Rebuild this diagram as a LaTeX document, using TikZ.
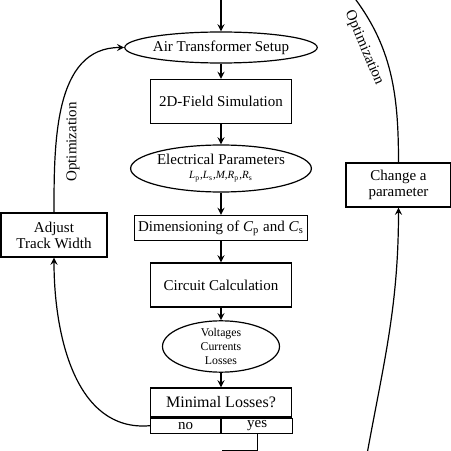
\documentclass[tikz,border=0pt]{standalone}
\usepackage{fontspec}
\setmainfont{Liberation Serif}
\usetikzlibrary{positioning}
\usetikzlibrary{shapes.geometric}
\tikzset{box/.style={draw,rectangle,inner sep=0pt,align=center}}

\begin{document}
\begin{tikzpicture}[x=0.5pt, y=0.5pt,
    font=\fontsize{7.5}{8}\selectfont,
    block/.style={box, line width=0.6pt, minimum width=70.5pt, minimum height=22pt},
    oval/.style={draw, ellipse, line width=0.6pt, inner sep=0pt, align=center},
    arrow/.style={-stealth, line width=0.6pt},
    line/.style={line width=0.6pt},
]
\useasboundingbox (0,0) rectangle (451,451);
\clip (0,0) rectangle (451,451);

\node[oval, minimum width=84.5pt, minimum height=15.5pt] (air) at (221,403.5) {Air Transformer Setup};
\node[block, below of=air, node distance=27pt] (field) {2D-Field Simulation};
\node[oval, below of=field, node distance=33.5pt, minimum width=86.5pt, minimum height=23.5pt] (elec) {Electrical Parameters\\[-1pt]{\fontsize{5.5}{6}\selectfont\textit{L}\textsubscript{p},\textit{L}\textsubscript{s},\textit{M},\textit{R}\textsubscript{p},\textit{R}\textsubscript{s}}};
\node[box, line width=0.6pt, below of=elec, node distance=29.75pt, minimum width=86.5pt, minimum height=12.5pt] (dim) {Dimensioning of \textit{C}\textsubscript{p} and \textit{C}\textsubscript{s}};
\node[block, below of=dim, node distance=28.5pt] (circ) {Circuit Calculation};
\node[oval, below of=circ, node distance=30.75pt, minimum width=58.5pt, minimum height=25.5pt, font=\fontsize{5.9}{7}\selectfont] (volt) {Voltages\\Currents\\Losses};
\node[box, line width=0.6pt, below of=volt, node distance=28pt, minimum width=70.5pt, minimum height=14.5pt, font=\fontsize{8}{9}\selectfont] (minimal) {Minimal Losses?};
\node[box, line width=0.6pt, anchor=north west, minimum width=35pt, minimum height=7.5pt] (no) at (minimal.south west) {no};
\node[box, line width=0.6pt, right=0pt of no, minimum width=35.5pt, minimum height=7.5pt] (yes) {yes};

\node[block, minimum width=53pt] (adjust) at (54,216) {Adjust\\Track Width};
\node[block, minimum width=52.5pt] (change) at (398.5,266) {Change a\\parameter};

\node[rotate=90] (optleft) at (73,309) {Optimization};
\node[rotate=-67] (optright) at (364,403) {Optimization};

\coordinate (topin) at (221,470);
\coordinate (rightin) at (364,-20);
\coordinate (rightout) at (345,465);
\coordinate (exit) at (222,0);

\draw[arrow] (topin) -- (air);
\draw[arrow] (air) -- (field);
\draw[arrow] (field) -- (elec);
\draw[arrow] (elec) -- (dim);
\draw[arrow] (dim) -- (circ);
\draw[arrow] (circ) -- (volt);
\draw[arrow] (volt) -- (minimal);

\draw[arrow] (adjust.north) to[out=90,in=180] (air.west);
\draw[arrow] (no.west) to[out=185,in=-90] (adjust.south);
\draw[arrow] (rightin) to[out=80,in=-90] (change.south);
\draw[line] (change.north) to[out=90,in=-50] (rightout);
\draw[line] (yes.south) |- (exit);
\end{tikzpicture}
\end{document}
